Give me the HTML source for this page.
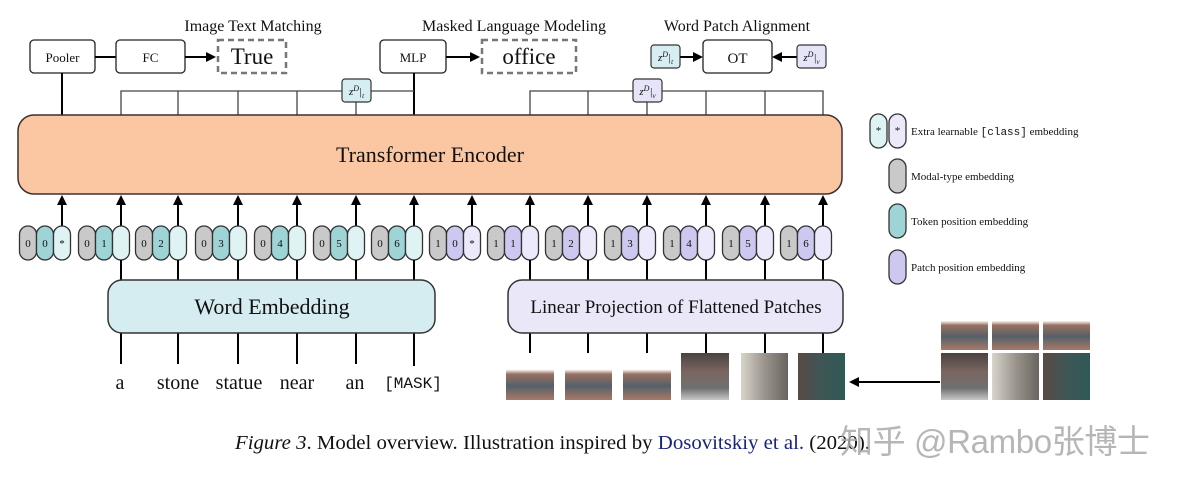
<!DOCTYPE html>
<html><head><meta charset="utf-8"><style>
html,body{margin:0;padding:0;background:#fff;}
svg{display:block;}
text{font-family:"Liberation Serif",serif;fill:#111;}
.m{font-family:"Liberation Mono",monospace;}
</style></head><body>
<svg width="1178" height="492" viewBox="0 0 1178 492" xmlns="http://www.w3.org/2000/svg">
<defs>
<marker id="ah" markerWidth="10" markerHeight="10" refX="8" refY="5" orient="auto" markerUnits="userSpaceOnUse"><path d="M0,0 L10,5 L0,10 z" fill="#000"/></marker>
<linearGradient id="b1" x1="0" y1="0" x2="0" y2="1"><stop offset="0" stop-color="#fff"/><stop offset="0.35" stop-color="#fff"/><stop offset="0.45" stop-color="#9a7060"/><stop offset="0.7" stop-color="#55606a"/><stop offset="1" stop-color="#a87a68"/></linearGradient>
<linearGradient id="b2" x1="0" y1="0" x2="0" y2="1"><stop offset="0" stop-color="#4a4240"/><stop offset="0.4" stop-color="#7a6660"/><stop offset="0.75" stop-color="#707070"/><stop offset="1" stop-color="#c8c8c8"/></linearGradient>
<linearGradient id="b3" x1="0" y1="0" x2="1" y2="0"><stop offset="0" stop-color="#d8d4cc"/><stop offset="0.5" stop-color="#9a948c"/><stop offset="1" stop-color="#6a6460"/></linearGradient>
<linearGradient id="b4" x1="0" y1="0" x2="1" y2="0"><stop offset="0" stop-color="#5a4a44"/><stop offset="0.5" stop-color="#3e5656"/><stop offset="1" stop-color="#2f5a56"/></linearGradient>
</defs>

<text x="253" y="31" font-size="16" text-anchor="middle">Image Text Matching</text>
<text x="514" y="31" font-size="16" text-anchor="middle">Masked Language Modeling</text>
<text x="737" y="31" font-size="16" text-anchor="middle">Word Patch Alignment</text>

<rect x="30" y="40" width="65" height="33" rx="4" fill="#fff" stroke="#222" stroke-width="1.3"/>
<text x="62.5" y="62" font-size="13" text-anchor="middle">Pooler</text>
<line x1="95" y1="57" x2="116" y2="57" stroke="#000" stroke-width="2"/>
<rect x="116" y="40" width="69" height="33" rx="4" fill="#fff" stroke="#222" stroke-width="1.3"/>
<text x="150.5" y="62" font-size="13" text-anchor="middle">FC</text>
<line x1="185" y1="57" x2="214" y2="57" stroke="#000" stroke-width="2" marker-end="url(#ah)"/>
<rect x="218" y="40" width="68" height="33" fill="none" stroke="#777" stroke-width="2.5" stroke-dasharray="6,4"/>
<text x="252" y="64" font-size="23" text-anchor="middle">True</text>

<rect x="380" y="40" width="66" height="33" rx="4" fill="#fff" stroke="#222" stroke-width="1.3"/>
<text x="413" y="62" font-size="13" text-anchor="middle">MLP</text>
<line x1="446" y1="57" x2="478" y2="57" stroke="#000" stroke-width="2" marker-end="url(#ah)"/>
<rect x="482" y="40" width="94" height="33" fill="none" stroke="#777" stroke-width="2.5" stroke-dasharray="6,4"/>
<text x="529" y="64" font-size="23" text-anchor="middle">office</text>

<rect x="651" y="45" width="29" height="23" rx="3" fill="#d6eef1" stroke="#333" stroke-width="1.2"/>
<text x="665.5" y="61" font-size="11" text-anchor="middle" font-style="italic">z<tspan font-size="8" dy="-4">D</tspan><tspan dy="4">|</tspan><tspan font-size="7" dy="3">t</tspan></text>
<line x1="680" y1="57" x2="701" y2="57" stroke="#000" stroke-width="2" marker-end="url(#ah)"/>
<rect x="703" y="40" width="69" height="33" rx="4" fill="#fff" stroke="#222" stroke-width="1.3"/>
<text x="737.5" y="63" font-size="15" text-anchor="middle">OT</text>
<line x1="797" y1="57" x2="774" y2="57" stroke="#000" stroke-width="2" marker-end="url(#ah)"/>
<rect x="797" y="45" width="29" height="23" rx="3" fill="#e6e4f8" stroke="#333" stroke-width="1.2"/>
<text x="811.5" y="61" font-size="11" text-anchor="middle" font-style="italic">z<tspan font-size="8" dy="-4">D</tspan><tspan dy="4">|</tspan><tspan font-size="7" dy="3">v</tspan></text>

<line x1="62" y1="73" x2="62" y2="115" stroke="#000" stroke-width="2"/>
<line x1="414" y1="73" x2="414" y2="115" stroke="#000" stroke-width="2"/>
<g stroke="#444" stroke-width="1.3" fill="none">
<polyline points="121,115 121,91 414,91"/>
<line x1="178" y1="91" x2="178" y2="115"/><line x1="238" y1="91" x2="238" y2="115"/>
<line x1="297" y1="91" x2="297" y2="115"/><line x1="356" y1="91" x2="356" y2="115"/>
<polyline points="530,115 530,91 823,91 823,115"/>
<line x1="588" y1="91" x2="588" y2="115"/><line x1="647" y1="91" x2="647" y2="115"/>
<line x1="706" y1="91" x2="706" y2="115"/><line x1="765" y1="91" x2="765" y2="115"/>
</g>
<rect x="342" y="79" width="29" height="23" rx="3" fill="#d6eef1" stroke="#333" stroke-width="1.2"/>
<text x="356.5" y="95" font-size="11" text-anchor="middle" font-style="italic">z<tspan font-size="8" dy="-4">D</tspan><tspan dy="4">|</tspan><tspan font-size="7" dy="3">t</tspan></text>
<rect x="633" y="79" width="29" height="23" rx="3" fill="#e6e4f8" stroke="#333" stroke-width="1.2"/>
<text x="647.5" y="95" font-size="11" text-anchor="middle" font-style="italic">z<tspan font-size="8" dy="-4">D</tspan><tspan dy="4">|</tspan><tspan font-size="7" dy="3">v</tspan></text>

<rect x="18" y="115" width="824" height="79" rx="16" fill="#fbc7a3" stroke="#3a3030" stroke-width="1.5"/>
<text x="430" y="162" font-size="22" text-anchor="middle">Transformer Encoder</text>

<g stroke="#000" stroke-width="2" marker-end="url(#ah)">
<line x1="62" y1="226" x2="62" y2="197"/><line x1="121" y1="226" x2="121" y2="197"/>
<line x1="178" y1="226" x2="178" y2="197"/><line x1="238" y1="226" x2="238" y2="197"/>
<line x1="297" y1="226" x2="297" y2="197"/><line x1="356" y1="226" x2="356" y2="197"/>
<line x1="414" y1="226" x2="414" y2="197"/><line x1="472" y1="226" x2="472" y2="197"/>
<line x1="530" y1="226" x2="530" y2="197"/><line x1="588" y1="226" x2="588" y2="197"/>
<line x1="647" y1="226" x2="647" y2="197"/><line x1="706" y1="226" x2="706" y2="197"/>
<line x1="765" y1="226" x2="765" y2="197"/><line x1="823" y1="226" x2="823" y2="197"/>
</g>

<g stroke="#333" stroke-width="1.3">
<g transform="translate(62,226)"><rect x="-42.5" width="17" height="34" rx="8.5" fill="#c9c9c9"/><rect x="-25.5" width="17" height="34" rx="8.5" fill="#9fd4d6"/><rect x="-8.5" width="17" height="34" rx="8.5" fill="#dff2f4"/></g>
<g transform="translate(121,226)"><rect x="-42.5" width="17" height="34" rx="8.5" fill="#c9c9c9"/><rect x="-25.5" width="17" height="34" rx="8.5" fill="#9fd4d6"/><rect x="-8.5" width="17" height="34" rx="8.5" fill="#dff2f4"/></g>
<g transform="translate(178,226)"><rect x="-42.5" width="17" height="34" rx="8.5" fill="#c9c9c9"/><rect x="-25.5" width="17" height="34" rx="8.5" fill="#9fd4d6"/><rect x="-8.5" width="17" height="34" rx="8.5" fill="#dff2f4"/></g>
<g transform="translate(238,226)"><rect x="-42.5" width="17" height="34" rx="8.5" fill="#c9c9c9"/><rect x="-25.5" width="17" height="34" rx="8.5" fill="#9fd4d6"/><rect x="-8.5" width="17" height="34" rx="8.5" fill="#dff2f4"/></g>
<g transform="translate(297,226)"><rect x="-42.5" width="17" height="34" rx="8.5" fill="#c9c9c9"/><rect x="-25.5" width="17" height="34" rx="8.5" fill="#9fd4d6"/><rect x="-8.5" width="17" height="34" rx="8.5" fill="#dff2f4"/></g>
<g transform="translate(356,226)"><rect x="-42.5" width="17" height="34" rx="8.5" fill="#c9c9c9"/><rect x="-25.5" width="17" height="34" rx="8.5" fill="#9fd4d6"/><rect x="-8.5" width="17" height="34" rx="8.5" fill="#dff2f4"/></g>
<g transform="translate(414,226)"><rect x="-42.5" width="17" height="34" rx="8.5" fill="#c9c9c9"/><rect x="-25.5" width="17" height="34" rx="8.5" fill="#9fd4d6"/><rect x="-8.5" width="17" height="34" rx="8.5" fill="#dff2f4"/></g>
<g transform="translate(472,226)"><rect x="-42.5" width="17" height="34" rx="8.5" fill="#c9c9c9"/><rect x="-25.5" width="17" height="34" rx="8.5" fill="#cdc8f0"/><rect x="-8.5" width="17" height="34" rx="8.5" fill="#ebe9fa"/></g>
<g transform="translate(530,226)"><rect x="-42.5" width="17" height="34" rx="8.5" fill="#c9c9c9"/><rect x="-25.5" width="17" height="34" rx="8.5" fill="#cdc8f0"/><rect x="-8.5" width="17" height="34" rx="8.5" fill="#ebe9fa"/></g>
<g transform="translate(588,226)"><rect x="-42.5" width="17" height="34" rx="8.5" fill="#c9c9c9"/><rect x="-25.5" width="17" height="34" rx="8.5" fill="#cdc8f0"/><rect x="-8.5" width="17" height="34" rx="8.5" fill="#ebe9fa"/></g>
<g transform="translate(647,226)"><rect x="-42.5" width="17" height="34" rx="8.5" fill="#c9c9c9"/><rect x="-25.5" width="17" height="34" rx="8.5" fill="#cdc8f0"/><rect x="-8.5" width="17" height="34" rx="8.5" fill="#ebe9fa"/></g>
<g transform="translate(706,226)"><rect x="-42.5" width="17" height="34" rx="8.5" fill="#c9c9c9"/><rect x="-25.5" width="17" height="34" rx="8.5" fill="#cdc8f0"/><rect x="-8.5" width="17" height="34" rx="8.5" fill="#ebe9fa"/></g>
<g transform="translate(765,226)"><rect x="-42.5" width="17" height="34" rx="8.5" fill="#c9c9c9"/><rect x="-25.5" width="17" height="34" rx="8.5" fill="#cdc8f0"/><rect x="-8.5" width="17" height="34" rx="8.5" fill="#ebe9fa"/></g>
<g transform="translate(823,226)"><rect x="-42.5" width="17" height="34" rx="8.5" fill="#c9c9c9"/><rect x="-25.5" width="17" height="34" rx="8.5" fill="#cdc8f0"/><rect x="-8.5" width="17" height="34" rx="8.5" fill="#ebe9fa"/></g>
</g>
<g font-size="11" text-anchor="middle" fill="#333">
<text x="28" y="247">0</text><text x="45" y="247">0</text><text x="62" y="247">*</text>
<text x="87" y="247">0</text><text x="104" y="247">1</text>
<text x="144" y="247">0</text><text x="161" y="247">2</text>
<text x="204" y="247">0</text><text x="221" y="247">3</text>
<text x="263" y="247">0</text><text x="280" y="247">4</text>
<text x="322" y="247">0</text><text x="339" y="247">5</text>
<text x="380" y="247">0</text><text x="397" y="247">6</text>
<text x="438" y="247">1</text><text x="455" y="247">0</text><text x="472" y="247">*</text>
<text x="496" y="247">1</text><text x="513" y="247">1</text>
<text x="554" y="247">1</text><text x="571" y="247">2</text>
<text x="613" y="247">1</text><text x="630" y="247">3</text>
<text x="672" y="247">1</text><text x="689" y="247">4</text>
<text x="731" y="247">1</text><text x="748" y="247">5</text>
<text x="789" y="247">1</text><text x="806" y="247">6</text>
</g>

<g stroke="#000" stroke-width="2">
<line x1="121" y1="260" x2="121" y2="280"/><line x1="178" y1="260" x2="178" y2="280"/>
<line x1="238" y1="260" x2="238" y2="280"/><line x1="297" y1="260" x2="297" y2="280"/>
<line x1="356" y1="260" x2="356" y2="280"/><line x1="414" y1="260" x2="414" y2="280"/>
<line x1="121" y1="333" x2="121" y2="364"/><line x1="178" y1="333" x2="178" y2="364"/>
<line x1="238" y1="333" x2="238" y2="364"/><line x1="297" y1="333" x2="297" y2="364"/>
<line x1="356" y1="333" x2="356" y2="364"/><line x1="414" y1="333" x2="414" y2="366"/>
<line x1="530" y1="260" x2="530" y2="280"/><line x1="588" y1="260" x2="588" y2="280"/>
<line x1="647" y1="260" x2="647" y2="280"/><line x1="706" y1="260" x2="706" y2="280"/>
<line x1="765" y1="260" x2="765" y2="280"/><line x1="823" y1="260" x2="823" y2="280"/>
<line x1="530" y1="333" x2="530" y2="353"/><line x1="588" y1="333" x2="588" y2="353"/>
<line x1="647" y1="333" x2="647" y2="353"/><line x1="706" y1="333" x2="706" y2="353"/>
<line x1="765" y1="333" x2="765" y2="353"/><line x1="823" y1="333" x2="823" y2="353"/>
</g>

<rect x="108" y="280" width="327" height="53" rx="14" fill="#d5edf1" stroke="#333" stroke-width="1.5"/>
<text x="272" y="314" font-size="22" text-anchor="middle">Word Embedding</text>
<rect x="508" y="280" width="335" height="53" rx="14" fill="#e9e7f8" stroke="#333" stroke-width="1.5"/>
<text x="676" y="313" font-size="19" text-anchor="middle">Linear Projection of Flattened Patches</text>

<g font-size="20" text-anchor="middle">
<text x="120" y="389">a</text><text x="178" y="389">stone</text><text x="239" y="389">statue</text>
<text x="297" y="389">near</text><text x="355" y="389">an</text>
</g>
<text x="413" y="388" font-size="16" text-anchor="middle" class="m">[MASK]</text>

<rect x="506" y="353" width="48" height="47" fill="url(#b1)"/>
<rect x="565" y="353" width="47" height="47" fill="url(#b1)"/>
<rect x="623" y="353" width="48" height="47" fill="url(#b1)"/>
<rect x="681" y="353" width="48" height="47" fill="url(#b2)"/>
<rect x="741" y="353" width="47" height="47" fill="url(#b3)"/>
<rect x="798" y="353" width="47" height="47" fill="url(#b4)"/>
<line x1="940" y1="382" x2="851" y2="382" stroke="#000" stroke-width="2" marker-end="url(#ah)"/>
<rect x="941" y="305" width="47" height="45" fill="url(#b1)"/>
<rect x="992" y="305" width="47" height="45" fill="url(#b1)"/>
<rect x="1043" y="305" width="47" height="45" fill="url(#b1)"/>
<rect x="941" y="353" width="47" height="47" fill="url(#b2)"/>
<rect x="992" y="353" width="47" height="47" fill="url(#b3)"/>
<rect x="1043" y="353" width="47" height="47" fill="url(#b4)"/>

<g stroke="#333" stroke-width="1.3">
<rect x="870" y="114" width="17" height="34" rx="8.5" fill="#dff2f4"/>
<rect x="889" y="114" width="17" height="34" rx="8.5" fill="#ebe9fa"/>
<rect x="889" y="159" width="17" height="34" rx="8.5" fill="#c9c9c9"/>
<rect x="889" y="204" width="17" height="34" rx="8.5" fill="#9fd4d6"/>
<rect x="889" y="250" width="17" height="34" rx="8.5" fill="#cdc8f0"/>
</g>
<text x="878.5" y="134" font-size="11" text-anchor="middle">*</text>
<text x="897.5" y="134" font-size="11" text-anchor="middle">*</text>
<g font-size="11">
<text x="911" y="135">Extra learnable <tspan class="m" font-size="11">[class]</tspan> embedding</text>
<text x="911" y="180">Modal-type embedding</text>
<text x="911" y="225">Token position embedding</text>
<text x="911" y="271">Patch position embedding</text>
</g>

<text x="235" y="449" font-size="20" textLength="635" lengthAdjust="spacingAndGlyphs"><tspan font-style="italic">Figure 3</tspan>. Model overview. Illustration inspired by <tspan style="fill:#1a237e">Dosovitskiy et al.</tspan> (2020).</text>
<text x="840" y="453" font-size="33" textLength="310" style="fill:#aaa;font-family:'Liberation Sans','Noto Sans CJK SC',sans-serif;opacity:0.85">知乎 @Rambo张博士</text>
</svg>
</body></html>
